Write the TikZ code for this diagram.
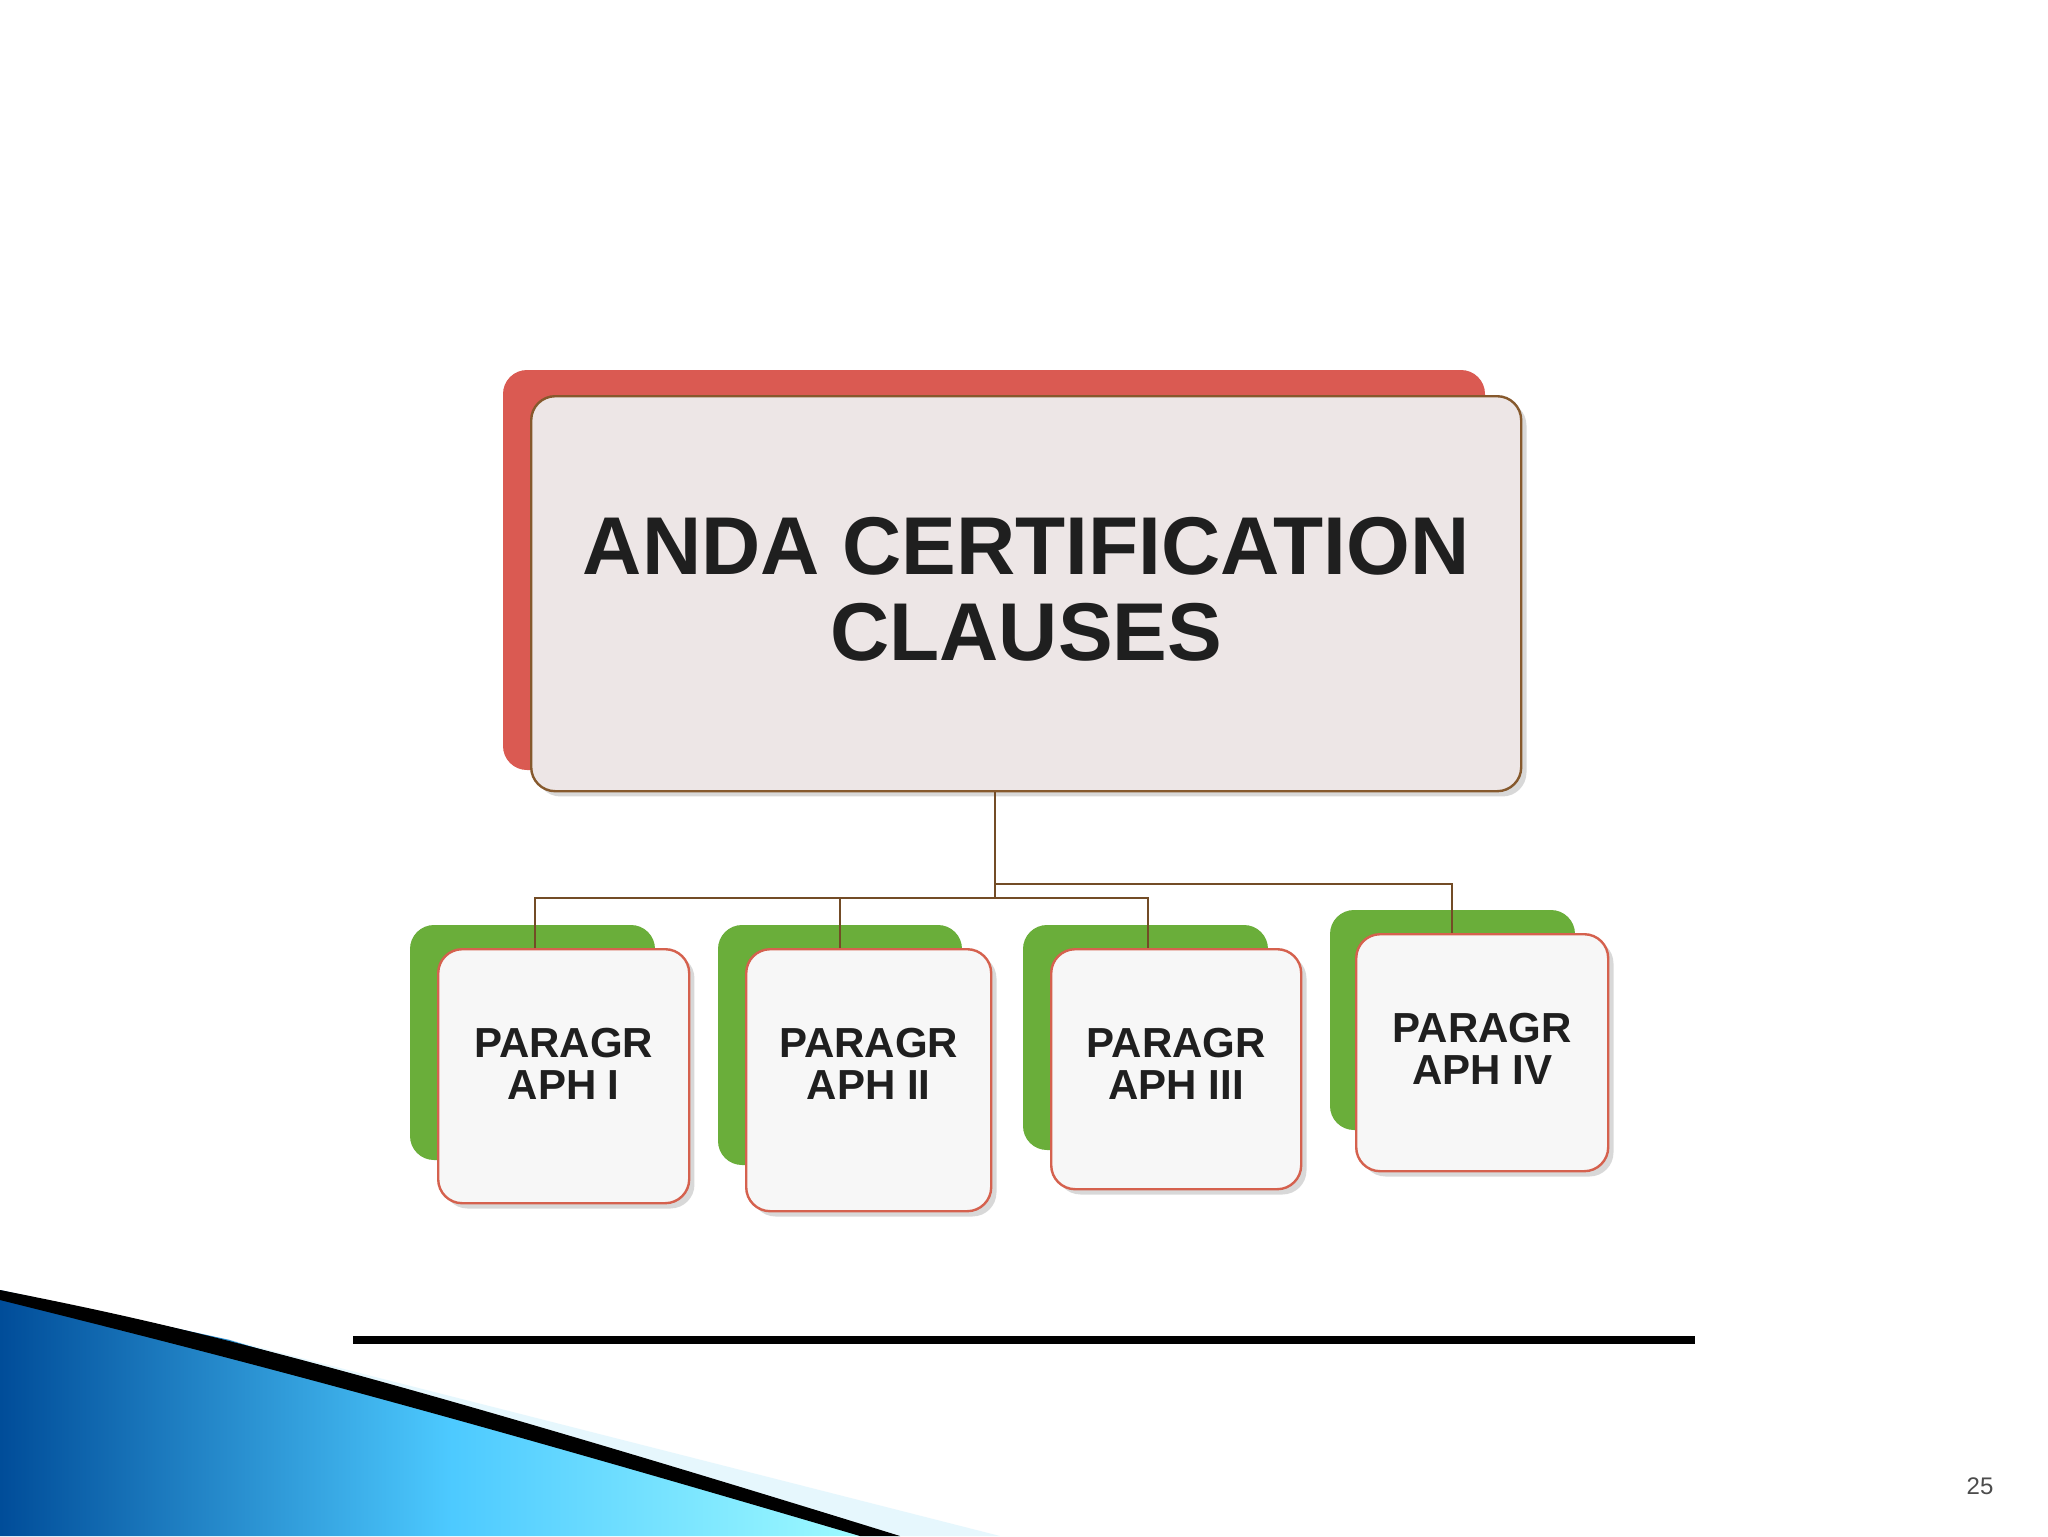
\documentclass[tikz,border=0pt]{standalone}
\usepackage{fontspec}
\setmainfont{Liberation Sans}
\usetikzlibrary{shadows}
\definecolor{grn}{HTML}{6AAE3A}
\definecolor{rd}{HTML}{DA5A52}
\definecolor{pk}{HTML}{EDE6E6}
\begin{document}
\begin{tikzpicture}[x=0.5pt,y=-0.5pt,
 back/.style={rounded corners=12pt,draw=none},
 front/.style={draw=brown!70!black,line width=1.2pt,rounded corners=12pt,fill=black!3,drop shadow={opacity=0.3}},
 lab/.style={font=\bfseries,align=center,text=black!88},
 conn/.style={draw=brown!60!black,line width=0.8pt}]
\useasboundingbox (0,0) rectangle (2048,1536);
\fill[white] (0,0) rectangle (2048,1536);
% bottom-left decoration
\shade[left color=cyan!50!blue!60!black,right color=cyan!35,middle color=cyan!70!blue!70] (0,1290) -- (230,1340) -- (900,1536) -- (0,1536) -- cycle;
\fill[cyan!10] (230,1340) -- (1000,1536) -- (900,1536) -- cycle;
\fill[black] (0,1290) .. controls (150,1320) and (300,1350) .. (900,1536) -- (860,1536) .. controls (400,1400) and (200,1350) .. (0,1300) -- cycle;
% main box
\fill[rd,back] (503,370) rectangle (1485,770);
\node[front,minimum width=990pt*0.5,minimum height=395pt*0.5,anchor=north west,fill=pk] (main) at (530,395) {};
\node[lab,font=\bfseries\fontsize{41}{43}\selectfont] (mt) at ([yshift=2pt]main.center) {ANDA CERTIFICATION\\CLAUSES};
% small boxes
\foreach \i/\gx/\gy/\gw/\gh/\fx/\fy/\fw/\fh/\t in {
 1/410/925/245/235/437/948/251/254/{PARAGR\\APH I},
 2/718/925/244/240/745/948/245/262/{PARAGR\\APH II},
 3/1023/925/245/225/1050/948/250/240/{PARAGR\\APH III},
 4/1330/910/245/220/1355/933/252/237/{PARAGR\\APH IV}}{
 \fill[grn,back] (\gx,\gy) rectangle ++(\gw,\gh);
 \node[front,draw=rd!80!brown,minimum width=\fw*0.5pt,minimum height=\fh*0.5pt,anchor=north west] (p\i) at (\fx,\fy) {};
 \node[lab,font=\bfseries\fontsize{21}{21}\selectfont] (t\i) at ([yshift=-58pt]p\i.north) {\t};
}
% connectors
\coordinate (j0) at (995,884);
\coordinate (j1) at (995,898);
\draw[conn] (main.south -| j0) -- (j1);
\draw[conn] (p1.north -| 535,0) |- (j1) -| (p3.north -| 1148,0);
\draw[conn] (p2.north -| 840,0) -- (840,898);
\draw[conn] (j0) -| (p4.north -| 1452,0);
% black rule
\draw[line width=4pt] (353,1340) -- (1695,1340);
\node[font=\fontsize{12}{12}\selectfont,text=black!70] (pg) at (1980,1486) {25};
\end{tikzpicture}
\end{document}
